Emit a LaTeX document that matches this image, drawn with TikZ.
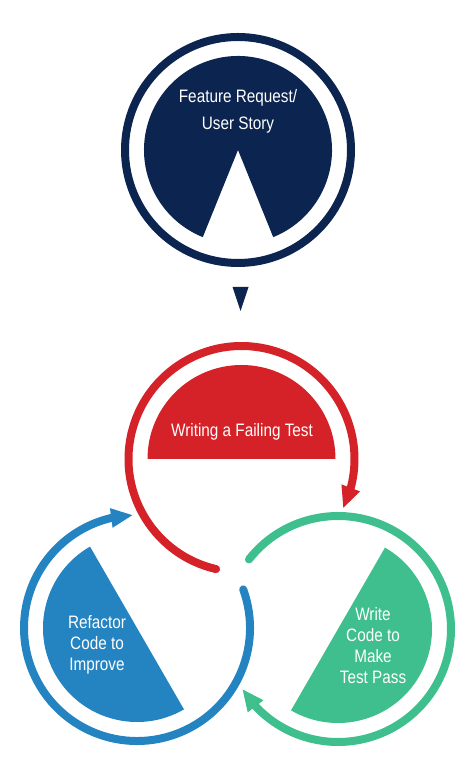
\documentclass[tikz,border=0pt]{standalone}
\usepackage{fontspec}
\setmainfont{Liberation Sans}[FakeStretch=0.85]
\usetikzlibrary{arrows.meta,bending}
\definecolor{navy}{RGB}{12,37,80}
\definecolor{tddred}{RGB}{213,33,40}
\definecolor{tddgreen}{RGB}{63,191,141}
\definecolor{tddblue}{RGB}{36,132,193}
\tikzset{
  ring/.style={line width=8pt},
  cyclearc/.style={line width=8pt, line cap=round, -{Triangle[length=22pt,width=18pt]}},
  label/.style={text=white, align=center, inner sep=0pt, font=\fontsize{18}{21}\selectfont},
}
\begin{document}
\begin{tikzpicture}[x=1pt,y=1pt]
\useasboundingbox (0,0) rectangle (474,770);
% centres
\coordinate (ctop) at (238,620);
\coordinate (cred) at (241.5,311);
\coordinate (cblue) at (137,142);
\coordinate (cgreen) at (338,141);
% top: feature request
\draw[ring, navy] (ctop) circle[radius=113];
\fill[navy] (ctop) -- ++(-68:94) arc[start angle=-68, end angle=248, radius=94] -- cycle;
\node[label, font=\fontsize{18}{27}\selectfont] (feature) at (238,658.5) {Feature Request/\\User Story};
\fill[navy] (232.5,483) -- (248.5,483) -- (240.5,459) -- cycle;
% red
\fill[tddred] (cred) -- ++(0:94) arc[start angle=0, end angle=180, radius=94] -- cycle;
\draw[cyclearc, tddred] (cred) ++(257:113) arc[start angle=257, end angle=-26, radius=113];
\node[label] (failing) at (242,338) {Writing a Failing Test};
% green
\fill[tddgreen] (cgreen) -- ++(-120:94) arc[start angle=-120, end angle=60, radius=94] -- cycle;
\draw[cyclearc, tddgreen] (cgreen) ++(142:113) arc[start angle=142, end angle=-148, radius=113];
\node[label] (pass) at (373,124.5) {Write\\Code to\\Make\\Test Pass};
% blue
\fill[tddblue] (cblue) -- ++(120:94) arc[start angle=120, end angle=300, radius=94] -- cycle;
\draw[cyclearc, tddblue] (cblue) ++(20:113) arc[start angle=20, end angle=-268, radius=113];
\node[label] (refactor) at (97,125) {Refactor\\Code to\\Improve};
\end{tikzpicture}
\end{document}
